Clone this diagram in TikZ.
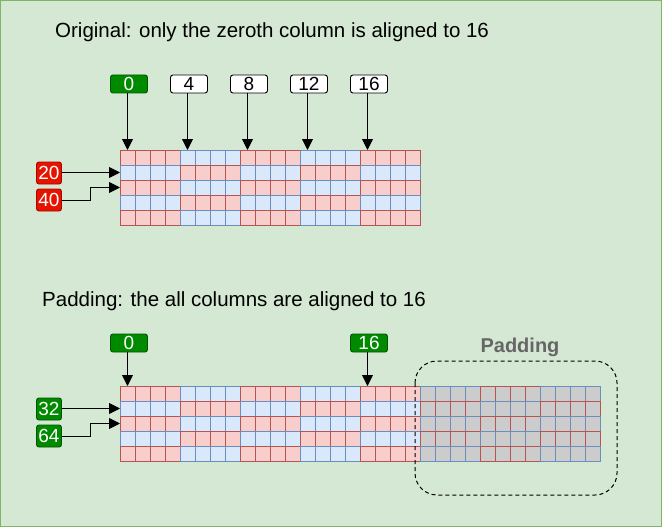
\documentclass[tikz,border=0pt]{standalone}
\usepackage{fontspec}
\setmainfont{Liberation Sans}
\usetikzlibrary{arrows.meta}
\definecolor{bgc}{HTML}{D5E8D4}\definecolor{bgs}{HTML}{82B366}
\definecolor{rf}{HTML}{F8CECC}\definecolor{rs}{HTML}{B85450}
\definecolor{bf}{HTML}{DAE8FC}\definecolor{bs}{HTML}{6C8EBF}
\definecolor{gf}{HTML}{CCCCCC}
\definecolor{grf}{HTML}{008A00}\definecolor{grs}{HTML}{005700}
\definecolor{ref}{HTML}{E51400}\definecolor{res}{HTML}{B20000}
\definecolor{padt}{HTML}{666666}
\tikzset{
 lbl/.style={draw=black,fill=white,rounded corners=2.5pt,minimum width=37pt,minimum height=18pt,inner sep=0pt,font=\fontsize{19}{19}\selectfont,text=black,line width=0.9pt},
 glbl/.style={lbl,draw=grs,fill=grf,text=white},
 rlbl/.style={lbl,draw=res,fill=ref,text=white,minimum width=25pt,minimum height=22pt},
 glbls/.style={lbl,draw=grs,fill=grf,text=white,minimum width=25pt,minimum height=22pt},
 arr/.style={-{Triangle[length=11pt,width=11pt]},line width=0.9pt},
 ttl/.style={anchor=west,font=\fontsize{20.5}{21}\selectfont,inner sep=0pt}
}
\begin{document}
\begin{tikzpicture}[x=1pt,y=-1pt]
\useasboundingbox (0,0) rectangle (662,527);
\draw[bgs,fill=bgc] (0.5,0.5) rectangle (661.5,526.5);
% grids
\foreach \yo/\nc in {150/20,386/32}{
 \foreach \c in {1,...,\nc}{
  \foreach \r in {0,...,4}{
   \pgfmathtruncatemacro{\cc}{\c-1}
   \pgfmathtruncatemacro{\g}{mod(int(\cc/4)+\r,2)}
   \pgfmathsetmacro{\xx}{120+15*\cc}
   \pgfmathsetmacro{\yy}{\yo+15*\r}
   \ifnum\g=0 \def\fc{rf}\def\sc{rs}\else\def\fc{bf}\def\sc{bs}\fi
   \ifnum\cc>19 \def\fc{gf}\fi
   \draw[draw=\sc,fill=\fc,line width=1pt] (\xx,\yy) rectangle ++(15,15);
  }}}
\node[ttl] (t1) at (55,32) {Original: only the zeroth column is aligned to 16};
\node[ttl] (t2) at (42,301) {Padding: the all columns are aligned to 16};
% top labels
\node[glbl] (a0) at (129,84) {0};
\node[lbl] (a4) at (189,84) {4};
\node[lbl] (a8) at (249,84) {8};
\node[lbl] (a12) at (309,84) {12};
\node[lbl] (a16) at (369,84) {16};
\foreach \n/\x in {a0/127.5,a4/187.5,a8/247.5,a12/307.5,a16/367.5}{
 \coordinate (\n t) at (\x,150);
 \draw[arr] (\n.south -| \n t) -- (\n t);}
\node[rlbl] (r20) at (49,173) {20};
\node[rlbl] (r40) at (49,200) {40};
\coordinate (c20) at (120,172.5);\coordinate (c40) at (120,187.5);
\draw[arr] (r20.east |- c20) -- (c20);
\draw[arr] (r40.east) -- (90,200) -- (90,187.5) -- (c40);
% bottom labels
\node[glbl] (b0) at (129,343) {0};
\node[glbl] (b16) at (369,343) {16};
\foreach \n/\x in {b0/127.5,b16/367.5}{
 \coordinate (\n t) at (\x,386);
 \draw[arr] (\n.south -| \n t) -- (\n t);}
\node[glbls] (g32) at (49,409) {32};
\node[glbls] (g64) at (49,436) {64};
\coordinate (c32) at (120,408.5);\coordinate (c64) at (120,423.5);
\draw[arr] (g32.east |- c32) -- (c32);
\draw[arr] (g64.east) -- (90,436) -- (90,423.5) -- (c64);
\node[font=\bfseries\fontsize{20}{20}\selectfont,text=padt] (pt) at (520,347) {Padding};
\draw[line width=1pt,rounded corners=22pt,dash pattern=on 4pt off 3pt] (415,361) rectangle (617,495);
\end{tikzpicture}
\end{document}
